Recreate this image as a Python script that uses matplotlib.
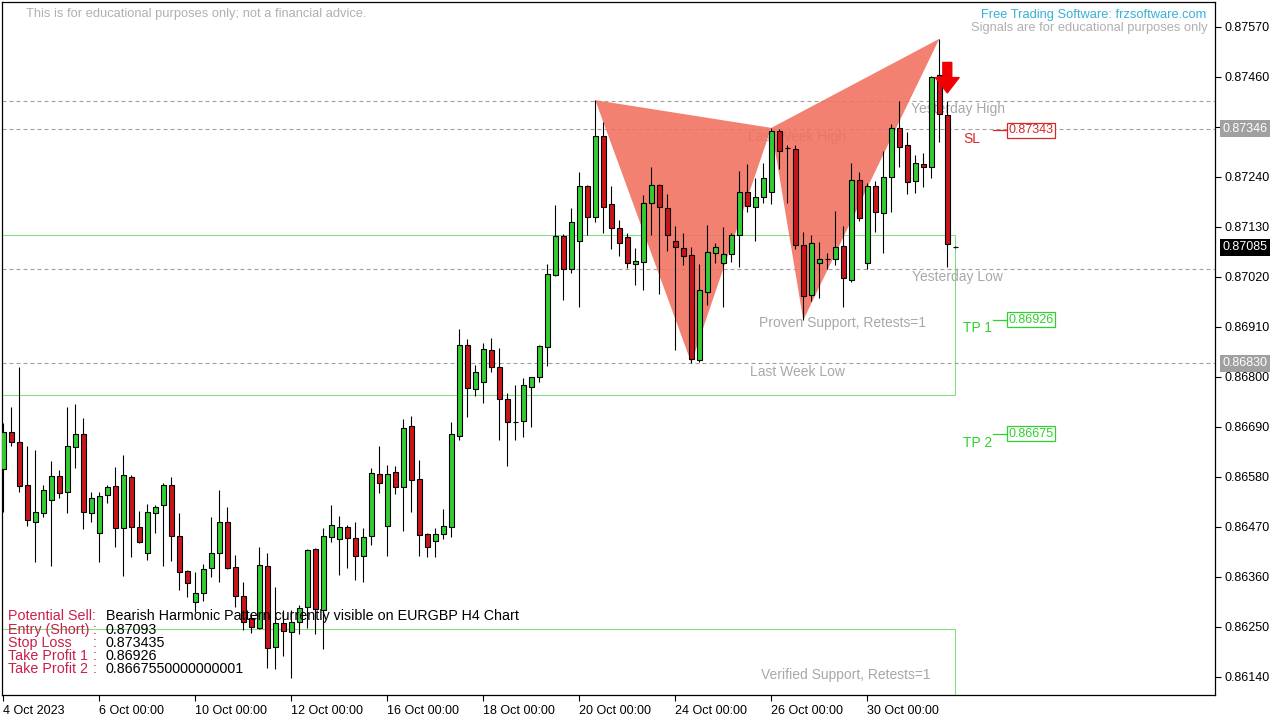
import matplotlib
matplotlib.use("Agg")
import matplotlib.pyplot as plt
from matplotlib.patches import Rectangle
import matplotlib.transforms as mtransforms

plt.rcParams['font.family'] = ['Liberation Sans', 'DejaVu Sans']

# EURGBP H4, 4 Oct 2023 00:00 onwards (one entry per bar)
opens = [0.86598, 0.86679, 0.86657, 0.86562, 0.86481, 0.86501, 0.86529, 0.86582, 0.86547, 0.86646,
         0.86675, 0.86501, 0.86457, 0.86540, 0.86560, 0.86468, 0.86580, 0.86470, 0.86413, 0.86501,
         0.86518, 0.86562, 0.86450, 0.86373, 0.86305, 0.86325, 0.86380, 0.86413, 0.86481, 0.86382,
         0.86318, 0.86270, 0.86248, 0.86384, 0.86206, 0.86259, 0.86239, 0.86261, 0.86294, 0.86422,
         0.86287, 0.86448, 0.86444, 0.86470, 0.86446, 0.86406, 0.86450, 0.86587, 0.86472, 0.86591,
         0.86558, 0.86692, 0.86575, 0.86455, 0.86439, 0.86455, 0.86470, 0.86670, 0.86870, 0.86774,
         0.86789, 0.86859, 0.86822, 0.86752, 0.86701, 0.86703, 0.86778, 0.86800, 0.86866, 0.87024,
         0.87110, 0.87038, 0.87099, 0.87220, 0.87152, 0.87330, 0.87181, 0.87128, 0.87108, 0.87049,
         0.87053, 0.87183, 0.87222, 0.87172, 0.87099, 0.87084, 0.87068, 0.86837, 0.86987, 0.87073,
         0.87051, 0.87071, 0.87112, 0.87207, 0.87174, 0.87196, 0.87207, 0.87341, 0.87304, 0.87302,
         0.87090, 0.86980, 0.87051, 0.87060, 0.87060, 0.87088, 0.87013, 0.87233, 0.87051, 0.87220,
         0.87161, 0.87240, 0.87348, 0.87310, 0.87231, 0.87269, 0.87262, 0.87464, 0.87376, 0.87086]
highs = [0.86699, 0.86734, 0.86822, 0.86648, 0.86639, 0.86562, 0.86615, 0.86595, 0.86734, 0.86741,
         0.86710, 0.86547, 0.86547, 0.86562, 0.86602, 0.86628, 0.86584, 0.86505, 0.86521, 0.86518,
         0.86567, 0.86580, 0.86501, 0.86375, 0.86371, 0.86389, 0.86492, 0.86551, 0.86514, 0.86408,
         0.86349, 0.86281, 0.86426, 0.86413, 0.86338, 0.86287, 0.86287, 0.86298, 0.86422, 0.86424,
         0.86468, 0.86518, 0.86494, 0.86474, 0.86481, 0.86468, 0.86600, 0.86648, 0.86606, 0.86604,
         0.86708, 0.86714, 0.86617, 0.86457, 0.86468, 0.86510, 0.86701, 0.86906, 0.86884, 0.86826,
         0.86875, 0.86886, 0.86864, 0.86765, 0.86782, 0.86798, 0.86800, 0.86870, 0.87049, 0.87178,
         0.87115, 0.87172, 0.87251, 0.87222, 0.87409, 0.87361, 0.87220, 0.87145, 0.87117, 0.87084,
         0.87200, 0.87262, 0.87225, 0.87203, 0.87132, 0.87117, 0.87086, 0.87049, 0.87134, 0.87095,
         0.87130, 0.87117, 0.87253, 0.87269, 0.87238, 0.87271, 0.87348, 0.87346, 0.87310, 0.87310,
         0.87119, 0.87112, 0.87097, 0.87073, 0.87165, 0.87132, 0.87271, 0.87251, 0.87227, 0.87231,
         0.87297, 0.87357, 0.87407, 0.87339, 0.87288, 0.87293, 0.87462, 0.87544, 0.87407, 0.87088]
lows = [0.86503, 0.86648, 0.86547, 0.86472, 0.86393, 0.86492, 0.86384, 0.86534, 0.86501, 0.86600,
        0.86466, 0.86481, 0.86393, 0.86523, 0.86426, 0.86362, 0.86404, 0.86435, 0.86397, 0.86457,
        0.86384, 0.86395, 0.86331, 0.86316, 0.86283, 0.86307, 0.86360, 0.86349, 0.86378, 0.86294,
        0.86243, 0.86237, 0.86246, 0.86160, 0.86158, 0.86186, 0.86138, 0.86235, 0.86248, 0.86235,
        0.86202, 0.86437, 0.86364, 0.86380, 0.86353, 0.86349, 0.86430, 0.86545, 0.86406, 0.86543,
        0.86461, 0.86503, 0.86406, 0.86404, 0.86404, 0.86444, 0.86448, 0.86661, 0.86712, 0.86758,
        0.86743, 0.86811, 0.86661, 0.86604, 0.86661, 0.86668, 0.86690, 0.86789, 0.86824, 0.87022,
        0.86969, 0.87029, 0.86954, 0.87112, 0.87141, 0.87117, 0.87082, 0.87066, 0.87040, 0.87002,
        0.86991, 0.87112, 0.86983, 0.87077, 0.86859, 0.87046, 0.86831, 0.86833, 0.86958, 0.87051,
        0.86954, 0.87053, 0.87042, 0.87163, 0.87099, 0.87183, 0.87181, 0.87258, 0.87183, 0.87082,
        0.86925, 0.86967, 0.86974, 0.87038, 0.87046, 0.86954, 0.87009, 0.87143, 0.87038, 0.87119,
        0.87073, 0.87163, 0.87262, 0.87203, 0.87205, 0.87218, 0.87238, 0.87317, 0.87042, 0.87084]
closes = [0.86679, 0.86657, 0.86560, 0.86485, 0.86503, 0.86551, 0.86582, 0.86545, 0.86648, 0.86675,
          0.86503, 0.86534, 0.86538, 0.86558, 0.86468, 0.86584, 0.86470, 0.86437, 0.86503, 0.86514,
          0.86562, 0.86450, 0.86371, 0.86347, 0.86325, 0.86378, 0.86413, 0.86481, 0.86380, 0.86318,
          0.86261, 0.86250, 0.86386, 0.86204, 0.86259, 0.86241, 0.86261, 0.86292, 0.86419, 0.86290,
          0.86450, 0.86474, 0.86470, 0.86446, 0.86406, 0.86448, 0.86589, 0.86567, 0.86587, 0.86558,
          0.86688, 0.86573, 0.86452, 0.86426, 0.86455, 0.86472, 0.86675, 0.86870, 0.86776, 0.86811,
          0.86862, 0.86822, 0.86752, 0.86701, 0.86701, 0.86782, 0.86800, 0.86868, 0.87027, 0.87110,
          0.87038, 0.87141, 0.87220, 0.87152, 0.87330, 0.87174, 0.87128, 0.87095, 0.87051, 0.87055,
          0.87183, 0.87222, 0.87174, 0.87112, 0.87086, 0.87066, 0.86840, 0.86991, 0.87075, 0.87086,
          0.87071, 0.87112, 0.87207, 0.87176, 0.87196, 0.87238, 0.87341, 0.87297, 0.87304, 0.87090,
          0.86978, 0.87095, 0.87060, 0.87060, 0.87086, 0.87018, 0.87233, 0.87150, 0.87220, 0.87163,
          0.87240, 0.87348, 0.87306, 0.87229, 0.87271, 0.87262, 0.87460, 0.87379, 0.87093, 0.87085]

date_ticks = [0, 12, 24, 36, 48, 60, 72, 84, 96, 108]
date_labels = ["4 Oct 2023", "6 Oct 00:00", "10 Oct 00:00", "12 Oct 00:00", "16 Oct 00:00",
               "18 Oct 00:00", "20 Oct 00:00", "24 Oct 00:00", "26 Oct 00:00", "30 Oct 00:00"]
price_ticks = [0.87570, 0.87460, 0.87350, 0.87240, 0.87130, 0.87020, 0.86910,
               0.86800, 0.86690, 0.86580, 0.86470, 0.86360, 0.86250, 0.86140]
hidden_ticks = [0.87350]  # covered by the last-week-high tag

yesterday_high = 0.87408
yesterday_low = 0.87038
last_week_high = 0.87346
last_week_low = 0.86830
current_price = 0.87085
proven_zone = (0.86760, 0.87112)
verified_zone = (0.86043, 0.86246)

# XABCD harmonic pattern pivots (bar index, which extreme)
pattern_bars = [74, 86, 96, 100, 117]
pattern_kind = ["high", "low", "high", "low", "high"]

entry = "0.87093"
stop_loss = "0.873435"
take_profit_1 = "0.86926"
take_profit_2 = "0.8667550000000001"
sl_price = 0.87343
tp1_price = 0.86926
tp2_price = 0.86675

W, H = 1280, 720
fig = plt.figure(figsize=(12.8, 7.2), dpi=100)
fig.patch.set_facecolor('white')
ax = fig.add_axes([2 / W, 25 / H, 1213 / W, 693 / H])
ax.set_xlim(-0.16, 151.46)
ax.set_ylim(0.86100, 0.87625)

green = '#32CD32'
red = '#C8161C'
grey = '#A0A0A0'
zone_green = '#5CD85C'

# pattern triangles
px = pattern_bars
py = [highs[b] if k == "high" else lows[b] for b, k in zip(pattern_bars, pattern_kind)]
ax.fill([px[0], px[1], px[2]], [py[0], py[1], py[2]], color='#F2705E', alpha=0.88, lw=0, zorder=2)
ax.fill([px[2], px[3], px[4]], [py[2], py[3], py[4]], color='#F2705E', alpha=0.88, lw=0, zorder=2)

# levels
dash = (0, (3.6, 2.7))
for lvl in [yesterday_high, last_week_high, yesterday_low, last_week_low]:
    ax.axhline(lvl, color=grey, lw=0.8, ls=dash, zorder=1)

lbl = dict(color='#A8A8A8', fontsize=10, va='top', ha='left', zorder=1.5)
ax.text(113.5, yesterday_high - 0.00003, "Yesterday High", **lbl)
ax.text(93.1, last_week_high - 0.00003, "Last Week High", **lbl)
ax.text(113.6, yesterday_low - 0.00003, "Yesterday Low", **lbl)
ax.text(93.3, last_week_low - 0.00003, "Last Week Low", **lbl)

# support zones
for lo, hi in [proven_zone, verified_zone]:
    ax.add_patch(Rectangle((-2, lo), 121, hi - lo, fill=False, ec=zone_green, lw=0.75,
                           alpha=0.8, zorder=1))
ax.text(94.5, 0.86919, "Proven Support, Retests=1", color='#A8A8A8', fontsize=10,
        va='center', ha='left', zorder=1.5)
ax.text(94.7, 0.86144, "Verified Support, Retests=1", color='#A8A8A8', fontsize=10,
        va='center', ha='left', zorder=1.5)

# candles
idx = list(range(len(opens)))
ax.vlines(idx, lows, highs, color='black', lw=0.8, zorder=3)
bottoms = [min(o, c) for o, c in zip(opens, closes)]
heights = [abs(c - o) for o, c in zip(opens, closes)]
colors = [green if c > o else red for o, c in zip(opens, closes)]
ax.bar(idx, heights, bottom=bottoms, width=0.6, color=colors, edgecolor='black', lw=0.8, zorder=4)

# sell arrow
ax.annotate('', xy=(118, 0.87425), xytext=(118, 0.87492),
            arrowprops=dict(arrowstyle='simple,head_length=0.55,head_width=0.85,tail_width=0.32',
                            fc='#F00000', ec='#F00000', mutation_scale=20, shrinkA=0, shrinkB=0),
            zorder=5)

# SL / TP tags
for name, price, col in [("SL", sl_price, '#D62828'), ("TP 1", tp1_price, '#2FD02F'),
                         ("TP 2", tp2_price, '#2FD02F')]:
    ax.text(120.0, price - 0.00004, name, color=col, fontsize=10, va='top', ha='left')
    ax.plot([123.7, 125.3], [price, price], color=col, lw=0.9)
    ax.text(125.6, price, f"{price:.5f}", color=col, fontsize=9, va='center', ha='left',
            bbox=dict(boxstyle='square,pad=0.12', fc='white', ec=col, lw=0.9))

# axes styling
for s in ax.spines.values():
    s.set_color('black')
    s.set_linewidth(0.9)
ax.yaxis.tick_right()
ax.set_yticks(price_ticks)
ax.set_yticklabels(["" if p in hidden_ticks else f"{p:.5f}" for p in price_ticks])
ax.tick_params(axis='y', direction='out', length=4, width=0.8, pad=3, labelsize=9)
ax.set_xticks(date_ticks)
ax.set_xticklabels(date_labels, ha='left')
ax.tick_params(axis='x', direction='out', length=4, width=0.8, pad=3, labelsize=9)

# price tags on the scale
tag_tr = mtransforms.blended_transform_factory(ax.transAxes, ax.transData)
for price, bg in [(last_week_high, '#A0A0A0'), (last_week_low, '#A0A0A0'), (current_price, 'black')]:
    ax.text(1.0058, price, f"{price:.5f}", transform=tag_tr, color='white', fontsize=9,
            va='center', ha='left', clip_on=False, zorder=6,
            bbox=dict(boxstyle='square,pad=0.2', fc=bg, ec='none'))

# headers
fig.text(26 / W, 1 - 14 / H, "This is for educational purposes only; not a financial advice.",
         color='#B0B0B0', fontsize=9.3, va='center', ha='left')
fig.text(1206 / W, 1 - 15 / H, "Free Trading Software: frzsoftware.com",
         color='#38B0D8', fontsize=9.3, va='center', ha='right')
fig.text(1208 / W, 1 - 28 / H, "Signals are for educational purposes only",
         color='#B0B0B0', fontsize=9.3, va='center', ha='right')

# signal summary block
names = ["Potential Sell:", "Entry (Short)", "Stop Loss", "Take Profit 1", "Take Profit 2"]
values = ["Bearish Harmonic Pattern currently visible on EURGBP H4 Chart",
          entry, stop_loss, take_profit_1, take_profit_2]
rows_y = [616, 630, 643, 656, 669]
for i, (n, v, yy) in enumerate(zip(names, values, rows_y)):
    fig.text(8 / W, 1 - yy / H, n, color='#C8204A', fontsize=10.3, va='center', ha='left')
    if i > 0:
        fig.text(93 / W, 1 - yy / H, ":", color='#C8204A', fontsize=10.3, va='center', ha='left')
    fig.text(106 / W, 1 - yy / H, v, color='black', fontsize=10.3, va='center', ha='left')

fig.savefig('out.png', dpi=100)
